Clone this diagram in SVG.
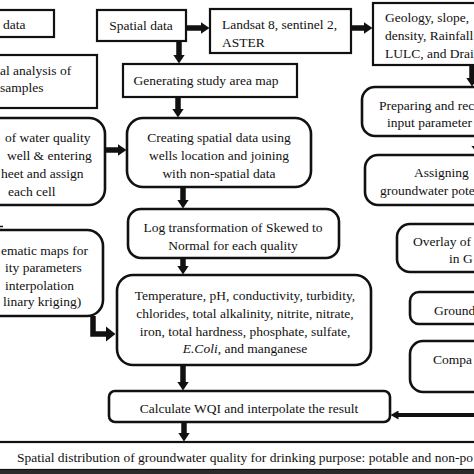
<svg xmlns="http://www.w3.org/2000/svg" width="474" height="474" viewBox="0 0 474 474">
<style>
  text { font-family: "Liberation Serif", "Times New Roman", serif; font-size: 13.5px; fill: #111; }
  .c { text-anchor: middle; }
  .box { fill: #fff; stroke: #111; stroke-width: 2.2; }
  .rbox { fill: #fff; stroke: #111; stroke-width: 2.6; }
  .con { fill: none; stroke: #111; stroke-width: 5.5; stroke-linejoin: miter; }
  .thin { fill: none; stroke: #111; stroke-width: 4; }
</style>
<defs>
  <marker id="ah" viewBox="0 0 9 12" markerWidth="9" markerHeight="12" refX="0.5" refY="6" orient="auto" markerUnits="userSpaceOnUse">
    <path d="M0,0 L9,6 L0,12 z" fill="#111"/>
  </marker>
  <marker id="ahb" viewBox="0 0 10 16" markerWidth="10" markerHeight="16" refX="0.5" refY="8" orient="auto" markerUnits="userSpaceOnUse">
    <path d="M0,0 L10,8 L0,16 z" fill="#111"/>
  </marker>
  <marker id="ahs" viewBox="0 0 8 9" markerWidth="8" markerHeight="9" refX="0.5" refY="4.5" orient="auto" markerUnits="userSpaceOnUse">
    <path d="M0,0 L8,4.5 L0,9 z" fill="#111"/>
  </marker>
</defs>
<rect x="0" y="0" width="474" height="474" fill="#fff"/>

<g id="connectors">
  <path class="con" d="M186,28 L201,28" marker-end="url(#ah)"/>
  <path class="con" d="M351,28 L364,28" marker-end="url(#ah)"/>
  <path class="con" d="M472,65 L472,78" marker-end="url(#ah)"/>
  <path class="con" d="M479,136 L479,146" marker-end="url(#ahb)"/>
  <path class="con" d="M179,41 L179,55" marker-end="url(#ah)"/>
  <path class="con" d="M178,97 L178,109" marker-end="url(#ah)"/>
  <path class="con" d="M105,150 L118,150" marker-end="url(#ah)"/>
  <path class="con" d="M183,187 L183,200" marker-end="url(#ah)"/>
  <path class="con" d="M183,258 L183,266" marker-end="url(#ah)"/>
  <path class="con" d="M93,316 L93,334 L106,334" marker-end="url(#ahb)"/>
  <path class="con" d="M183,365 L183,382" marker-end="url(#ah)"/>
  <path class="thin" d="M476,415 L398,415" marker-end="url(#ahs)"/>
  <path class="con" d="M184,422 L184,433" marker-end="url(#ah)"/>
  <path d="M-2,226.5 L3,226.5" stroke="#111" stroke-width="1.5"/>
</g>

<g id="node-data">
  <rect class="box" x="-3" y="10" width="57" height="27"/>
  <text x="3" y="29">data</text>
</g>

<g id="node-spatial-data">
  <rect class="box" x="97" y="10" width="89" height="31"/>
  <text class="c" x="141" y="30">Spatial data</text>
</g>

<g id="node-landsat">
  <rect class="box" x="210" y="9" width="141" height="44"/>
  <text x="222" y="29">Landsat 8, sentinel 2,</text>
  <text x="222" y="47">ASTER</text>
</g>

<g id="node-geology">
  <rect class="box" x="373" y="3" width="110" height="62"/>
  <text x="385" y="22">Geology, slope,</text>
  <text x="385" y="40">density, Rainfall</text>
  <text x="385" y="58">LULC, and Drai</text>
</g>

<g id="node-lab-analysis">
  <rect class="box" x="-3" y="55" width="100" height="53"/>
  <text x="0" y="75">al analysis of</text>
  <text x="0" y="92">samples</text>
</g>

<g id="node-generating">
  <rect class="box" x="123" y="64" width="174" height="33"/>
  <text class="c" x="206" y="85">Generating study area map</text>
</g>

<g id="node-preparing">
  <rect class="rbox" x="362" y="87" width="130" height="49" rx="13"/>
  <text x="379" y="110">Preparing and rec</text>
  <text x="387" y="127">input parameter</text>
</g>

<g id="node-water-quality">
  <rect class="rbox" x="-20" y="118" width="125" height="87" rx="16"/>
  <text x="5" y="142">of water quality</text>
  <text x="7" y="160">well &amp; entering</text>
  <text x="1" y="178">heet and assign</text>
  <text x="8" y="196">each cell</text>
</g>

<g id="node-creating">
  <rect class="rbox" x="127" y="118" width="184" height="69" rx="16"/>
  <text class="c" x="219" y="142">Creating spatial data using</text>
  <text class="c" x="219" y="160">wells location and joining</text>
  <text class="c" x="219" y="178">with non-spatial data</text>
</g>

<g id="node-assigning">
  <rect class="rbox" x="365" y="155" width="130" height="50" rx="13"/>
  <text x="414" y="177">Assigning</text>
  <text x="380" y="195">groundwater pote</text>
</g>

<g id="node-log">
  <rect class="rbox" x="128" y="209" width="211" height="49" rx="13"/>
  <text class="c" x="233" y="232">Log transformation of Skewed to</text>
  <text class="c" x="233" y="250">Normal for each quality</text>
</g>

<g id="node-overlay">
  <rect class="rbox" x="397" y="224" width="100" height="48" rx="13"/>
  <text x="413" y="246">Overlay of</text>
  <text x="449" y="263">in G</text>
</g>

<g id="node-thematic">
  <rect class="rbox" x="-20" y="230" width="123" height="86" rx="16"/>
  <text x="1" y="255">ematic maps for</text>
  <text x="5" y="272">ity parameters</text>
  <text x="5" y="290">interpolation</text>
  <text x="3" y="306">linary kriging)</text>
</g>

<g id="node-parameters">
  <rect class="rbox" x="117" y="275" width="254" height="90" rx="16"/>
  <text class="c" x="245" y="300">Temperature, pH, conductivity, turbidity,</text>
  <text class="c" x="245" y="318">chlorides, total alkalinity, nitrite, nitrate,</text>
  <text class="c" x="245" y="336">iron, total hardness, phosphate, sulfate,</text>
  <text class="c" x="245" y="353"><tspan font-style="italic">E.Coli</tspan>, and manganese</text>
</g>

<g id="node-ground">
  <rect class="rbox" x="410" y="292" width="90" height="32" rx="9"/>
  <text x="434" y="315">Ground</text>
</g>

<g id="node-compa">
  <rect class="rbox" x="410" y="341" width="90" height="51" rx="13"/>
  <text x="433" y="364">Compa</text>
</g>

<g id="node-calculate">
  <rect class="rbox" x="109" y="391" width="281" height="31" rx="6"/>
  <text class="c" x="249" y="413">Calculate WQI and interpolate the result</text>
</g>

<g id="node-spatial-distribution">
  <rect class="box" x="-3" y="442" width="480" height="28"/>
  <text x="17" y="462">Spatial distribution of groundwater quality for drinking purpose: potable and non-po</text>
</g>

<rect x="0" y="470" width="474" height="4" fill="#2b2b2b"/>
</svg>
